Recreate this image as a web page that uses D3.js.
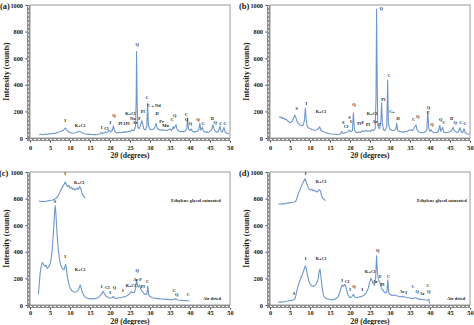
<!DOCTYPE html>
<html><head><meta charset="utf-8">
<script src="https://cdn.jsdelivr.net/npm/d3@7"></script>
<style>
body{margin:0;background:#fff}
svg{display:block}
text{font-family:"Liberation Serif","Times New Roman",serif;font-weight:bold;fill:#222}
</style>
</head><body>
<svg id="chart" width="474" height="325"></svg>
<script>
// Axis tick values
const xTicks = [0, 5, 10, 15, 20, 25, 30, 35, 40, 45, 50];
const yTicks = [0, 200, 400, 600, 800, 1000];

// XRD patterns: [2θ (degrees), intensity (counts)]
const bulkA = [[2.3,25],[2.8,28],[3.3,24],[3.8,30],[4.3,27],[4.8,33],[5.3,30],[5.8,36],[6.3,34],[6.8,42],[7.3,45],[7.8,50],[8.3,58],[8.6,66],[8.8,75],[9.0,70],[9.3,55],[9.7,44],[10.2,40],[10.7,36],[11.2,38],[11.7,42],[12.1,48],[12.4,52],[12.7,46],[13.1,38],[13.6,32],[14.1,30],[14.6,27],[15.1,28],[15.6,25],[16.1,27],[16.6,24],[17.1,28],[17.5,32],[17.8,42],[18.1,34],[18.5,38],[18.9,45],[19.3,42],[19.8,58],[20.2,46],[20.6,60],[20.85,92],[21.1,55],[21.5,42],[21.9,38],[22.3,44],[22.7,40],[23.1,46],[23.5,42],[23.9,48],[24.3,44],[24.7,52],[25.1,48],[25.5,62],[25.8,55],[26.1,60],[26.4,90],[26.55,300],[26.65,650],[26.78,280],[26.95,80],[27.3,70],[27.6,95],[27.95,130],[28.2,100],[28.5,65],[28.9,60],[29.2,90],[29.4,260],[29.6,95],[29.9,70],[30.3,62],[30.7,66],[31.1,72],[31.5,110],[31.8,75],[32.2,62],[32.6,58],[33.0,64],[33.4,56],[33.8,60],[34.2,55],[34.6,62],[35.0,68],[35.4,56],[35.8,85],[36.0,70],[36.5,100],[36.8,65],[37.2,52],[37.6,48],[38.0,50],[38.4,46],[38.8,52],[39.2,70],[39.4,150],[39.6,70],[40.0,55],[40.3,68],[40.6,50],[41.0,46],[41.4,48],[41.8,50],[42.2,60],[42.45,110],[42.7,58],[43.1,80],[43.4,50],[43.8,44],[44.2,46],[44.6,42],[45.0,50],[45.4,60],[45.7,100],[46.0,68],[46.3,50],[46.7,44],[47.1,48],[47.5,90],[47.8,50],[48.1,44],[48.5,80],[48.8,46],[49.2,36],[49.8,30]];

const bulkB = [[2.3,160],[2.6,152],[2.9,158],[3.2,145],[3.5,150],[3.8,138],[4.1,140],[4.4,128],[4.7,122],[5.0,115],[5.3,118],[5.6,128],[5.9,150],[6.2,172],[6.5,150],[6.8,120],[7.1,110],[7.4,100],[7.7,95],[8.0,92],[8.3,98],[8.6,130],[8.85,225],[9.05,140],[9.3,88],[9.7,75],[10.1,70],[10.5,64],[10.9,60],[11.3,58],[11.7,62],[12.1,70],[12.4,85],[12.7,62],[13.1,50],[13.5,45],[14.0,40],[14.5,35],[15.0,32],[15.5,30],[16.0,28],[16.5,28],[17.0,26],[17.5,30],[17.9,48],[18.2,35],[18.6,38],[19.0,42],[19.4,45],[19.8,60],[20.2,48],[20.6,55],[20.85,190],[21.1,60],[21.5,42],[21.9,40],[22.3,46],[22.7,42],[23.1,55],[23.5,48],[23.9,56],[24.3,50],[24.7,54],[25.1,50],[25.5,62],[25.9,55],[26.3,70],[26.5,300],[26.65,970],[26.8,400],[26.95,90],[27.3,70],[27.5,85],[27.7,120],[27.9,265],[28.1,110],[28.4,60],[28.8,55],[29.2,90],[29.42,435],[29.6,110],[29.9,70],[30.3,60],[30.7,55],[31.1,58],[31.5,70],[31.7,110],[31.9,60],[32.3,50],[32.8,46],[33.3,44],[33.8,48],[34.3,50],[34.8,58],[35.2,62],[35.6,55],[36.0,75],[36.5,100],[36.8,60],[37.2,45],[37.7,42],[38.2,40],[38.7,44],[39.2,60],[39.45,200],[39.7,70],[40.0,50],[40.3,62],[40.6,45],[41.1,40],[41.6,42],[42.1,48],[42.45,95],[42.7,50],[43.15,80],[43.4,46],[43.9,40],[44.4,42],[44.9,46],[45.4,55],[45.8,80],[46.1,55],[46.6,42],[47.1,45],[47.5,78],[47.8,46],[48.2,42],[48.5,70],[48.8,40],[49.3,32],[49.8,28]];

const airC = [[2.1,80],[2.3,150],[2.5,230],[2.8,290],[3.1,320],[3.4,305],[3.7,290],[4.0,300],[4.3,275],[4.6,285],[4.9,300],[5.2,330],[5.5,400],[5.8,520],[6.0,620],[6.15,700],[6.3,745],[6.45,700],[6.6,620],[6.8,520],[7.0,440],[7.3,360],[7.6,310],[7.9,285],[8.2,270],[8.5,265],[8.75,290],[8.95,305],[9.15,260],[9.4,200],[9.7,160],[10.0,130],[10.4,110],[10.8,100],[11.2,96],[11.6,100],[12.0,110],[12.3,130],[12.55,150],[12.8,125],[13.1,95],[13.5,70],[14.0,55],[14.5,50],[15.0,48],[15.5,46],[16.0,48],[16.5,50],[17.0,55],[17.4,65],[17.8,80],[18.1,95],[18.35,102],[18.6,85],[18.9,70],[19.3,62],[19.7,55],[20.1,52],[20.5,54],[20.85,65],[21.2,52],[21.6,50],[22.0,52],[22.5,55],[23.0,58],[23.5,62],[24.0,66],[24.5,75],[25.0,88],[25.35,100],[25.7,92],[26.1,95],[26.45,130],[26.65,190],[26.85,150],[27.1,135],[27.4,150],[27.7,120],[28.0,105],[28.4,90],[28.8,80],[29.2,80],[29.45,140],[29.7,75],[30.1,62],[30.6,55],[31.1,52],[31.6,50],[32.1,48],[32.6,46],[33.1,45],[33.6,44],[34.1,42],[34.6,42],[35.1,40],[35.6,40],[36.1,42],[36.5,48],[36.9,38],[37.4,36],[37.9,35],[38.4,34],[38.9,33],[39.4,32],[39.9,32]];

const glycolC = [[2.2,782],[2.7,778],[3.2,780],[3.7,776],[4.2,782],[4.7,785],[5.2,788],[5.7,790],[6.2,796],[6.6,805],[7.0,820],[7.4,845],[7.8,870],[8.2,890],[8.5,905],[8.8,925],[9.1,905],[9.4,890],[9.7,900],[10.0,880],[10.3,885],[10.6,870],[10.9,878],[11.2,865],[11.5,870],[11.8,880],[12.1,870],[12.4,890],[12.7,875],[13.0,840],[13.3,820],[13.6,812],[13.9,805]];

const airD = [[2.1,20],[2.5,22],[3.0,20],[3.5,25],[4.0,28],[4.5,30],[5.0,33],[5.5,35],[6.0,40],[6.3,50],[6.6,90],[6.9,130],[7.2,160],[7.5,185],[7.8,210],[8.1,230],[8.4,255],[8.7,285],[8.9,295],[9.1,270],[9.4,220],[9.7,180],[10.0,160],[10.4,145],[10.8,140],[11.2,145],[11.6,160],[12.0,190],[12.3,255],[12.5,270],[12.7,220],[13.0,140],[13.3,80],[13.6,60],[14.0,50],[14.5,45],[15.0,42],[15.5,40],[16.0,42],[16.5,48],[17.0,60],[17.4,90],[17.8,130],[18.1,150],[18.4,140],[18.7,155],[19.0,135],[19.3,95],[19.6,70],[20.0,55],[20.4,60],[20.85,80],[21.2,60],[21.6,55],[22.0,58],[22.5,62],[23.0,65],[23.5,75],[24.0,90],[24.5,120],[24.9,170],[25.2,200],[25.5,185],[25.8,160],[26.1,150],[26.4,200],[26.65,370],[26.85,250],[27.1,190],[27.4,175],[27.7,140],[28.0,120],[28.4,105],[28.8,90],[29.2,95],[29.45,190],[29.7,90],[30.1,78],[30.6,72],[31.1,75],[31.6,70],[32.1,66],[32.6,62],[33.1,65],[33.6,60],[34.1,56],[34.6,55],[35.1,52],[35.6,50],[36.1,52],[36.5,55],[36.9,46],[37.4,44],[37.9,42],[38.4,40],[38.9,38],[39.4,36],[39.7,45],[39.9,12]];

const glycolD = [[2.1,760],[2.6,757],[3.1,762],[3.6,760],[4.1,765],[4.6,768],[5.1,770],[5.6,772],[6.1,775],[6.4,778],[6.7,800],[7.0,830],[7.4,860],[7.8,890],[8.2,915],[8.5,935],[8.75,950],[9.0,930],[9.3,905],[9.6,880],[9.9,870],[10.2,865],[10.5,870],[10.8,858],[11.1,862],[11.4,855],[11.7,850],[12.0,855],[12.3,868],[12.6,860],[12.9,820],[13.2,800],[13.5,795],[13.9,785]];

// Mineral phase labels: [text, 2θ, counts]
const phasesA = [["I",8.75,120],["K+Cl",12.5,80],["I",17.9,65],["Cl",19.1,62],["I",20.1,105],["Q",21.0,160],["Pl",22.6,95],["I",23.6,100],["Pl",24.4,95],["K+Cl",25.1,175],["Na",25.7,135],["Ar",26.2,108],["Q",26.8,690],["F",27.4,135],["Pl",28.2,190],["C",29.3,290],["C + Nd",31.0,230],["D",31.8,172],["Pr",32.9,112],["Mn",33.9,82],["C",35.5,128],["Q",36.2,155],["C",39.1,163],["Q",39.1,128],["Q",40.1,95],["Q",42.0,128],["C",43.3,100],["D",45.6,135],["Q",46.3,105],["C",47.7,100],["C",48.8,100]];

const phasesB = [["S",6.7,213],["I",9.1,246],["K+Cl",12.7,190],["S",18.3,103],["Cl",19.0,73],["S",19.9,143],["I",20.2,113],["Q",21.0,244],["Pl",22.3,95],["F",23.2,103],["Pl",24.5,93],["K+Cl",25.5,176],["Ar",26.2,113],["Q",27.8,962],["F",27.4,88],["Pl",28.3,276],["C",29.8,460],["C+",30.5,188],["D",32.0,138],["C",35.9,128],["Q",36.9,153],["Q",39.6,221],["C",39.6,183],["Q",40.5,88],["Q",42.7,128],["C",43.5,103],["D",45.4,133],["Q",46.3,103],["C",47.7,103],["C",48.8,95]];

const phasesC = [["I",8.8,975],["K+Cl",12.3,910],["S",6.25,768],["I",8.8,350],["K+Cl",12.5,258],["I",17.9,130],["Cl",19.3,118],["I",20.0,83],["Q",21.1,118],["I",23.2,100],["K+Cl",25.2,135],["Q",26.8,245],["Ar F",26.9,180],["Pl",28.2,125],["C",29.4,163],["C",36.0,95],["Q",36.7,70],["C",39.5,70]];

const phasesD = [["I",8.9,975],["K+Cl",12.75,915],["S",6.0,78],["I",8.9,340],["K+Cl",12.75,340],["I",18.0,176],["Cl",19.25,166],["I",20.0,108],["Q",21.0,126],["I",23.1,105],["K+Cl",25.0,239],["Ar",26.3,166],["Q",26.9,402],["F",27.6,206],["Pl",28.1,146],["C",29.6,204],["Ar",33.0,90],["I",34.0,80],["C",35.8,128],["Q",36.8,88],["Ar",38.0,78],["C",39.5,133],["Q",39.7,88]];

// Treatment notes in the clay-fraction panels: [text, 2θ, counts]
const notesC = [["Ethylene glycol saturated",41.5,775],["Air dried",45.5,35]];
const notesD = [["Ethylene glycol saturated",43.0,775],["Air dried",46.5,35]];

const panels = [
  {tag:"(a)", traces:[bulkA], phases:phasesA, notes:[], box:{l:30, r:230, t:5, b:138}, tagPos:[0,9], tickGap:3.5, titleGap:20},
  {tag:"(b)", traces:[bulkB], phases:phasesB, notes:[], box:{l:270, r:470, t:5, b:138}, tagPos:[239,9], tickGap:3.5, titleGap:20},
  {tag:"(c)", traces:[airC, glycolC], phases:phasesC, notes:notesC, box:{l:30, r:230, t:172, b:305}, tagPos:[-1,176], tickGap:1.2, titleGap:18.6},
  {tag:"(d)", traces:[airD, glycolD], phases:phasesD, notes:notesD, box:{l:270, r:470, t:172, b:305}, tagPos:[239,176], tickGap:1.2, titleGap:18.6}
];

const svg = d3.select("#chart");
const lineColor = "#6e97cb";

panels.forEach(p => {
  const {l, r, t, b} = p.box;
  const x = d3.scaleLinear().domain([0, 50]).range([l, r]);
  const y = d3.scaleLinear().domain([0, 1000]).range([b, t]);
  const g = svg.append("g");

  // frame
  g.append("rect").attr("x", l).attr("y", t).attr("width", r - l).attr("height", b - t)
    .attr("fill", "none").attr("stroke", "#9a9a9a").attr("stroke-width", 1);

  // heavy axis bands with light dashes
  g.append("rect").attr("x", l - 3).attr("y", t).attr("width", 3).attr("height", b - t + 3).attr("fill", "#8e8e8e");
  g.append("rect").attr("x", l - 3).attr("y", b).attr("width", r - l + 3).attr("height", 3).attr("fill", "#8e8e8e");
  g.append("line").attr("x1", l - 1.5).attr("x2", l - 1.5).attr("y1", t + 1).attr("y2", b)
    .attr("stroke", "#d8d8d8").attr("stroke-width", 1).attr("stroke-dasharray", "2,2");
  g.append("line").attr("x1", l).attr("x2", r).attr("y1", b + 1.5).attr("y2", b + 1.5)
    .attr("stroke", "#ffffff").attr("stroke-width", 1).attr("stroke-dasharray", "2,2");

  // axes
  const xAxis = g.append("g").attr("transform", `translate(0,${b + 3})`)
    .call(d3.axisBottom(x).tickValues(xTicks).tickSize(1.5).tickPadding(p.tickGap).tickFormat(d3.format("d")));
  const yAxis = g.append("g").attr("transform", `translate(${l - 3},0)`)
    .call(d3.axisLeft(y).tickValues(yTicks).tickSize(1.5).tickPadding(2.5).tickFormat(d3.format("d")));
  [xAxis, yAxis].forEach(a => {
    a.select(".domain").remove();
    a.selectAll(".tick line").attr("stroke", "#444");
    a.selectAll(".tick text").attr("font-size", 6.3).attr("font-family", "Liberation Serif, serif")
      .attr("font-weight", "bold").attr("fill", "#222");
  });

  // diffraction traces
  const line = d3.line().x(d => x(d[0])).y(d => y(d[1]));
  p.traces.forEach(tr => {
    g.append("path").datum(tr).attr("d", line).attr("fill", "none")
      .attr("stroke", lineColor).attr("stroke-width", 1.1).attr("stroke-linejoin", "round");
  });

  // mineral phase labels
  g.selectAll(".phase").data(p.phases).enter().append("text")
    .attr("x", d => x(d[1])).attr("y", d => y(d[2]))
    .attr("text-anchor", "middle").attr("font-size", 4.4).attr("fill", "#333")
    .text(d => d[0]);

  // treatment notes
  g.selectAll(".note").data(p.notes).enter().append("text")
    .attr("x", d => x(d[1])).attr("y", d => y(d[2]))
    .attr("text-anchor", "middle").attr("font-size", 4.6).attr("fill", "#333")
    .text(d => d[0]);

  // axis titles
  const xt = g.append("text").attr("x", (l + r) / 2).attr("y", b + p.titleGap)
    .attr("text-anchor", "middle").attr("font-size", 7.6);
  xt.append("tspan").text("2");
  xt.append("tspan").attr("font-style", "italic").text("θ");
  xt.append("tspan").text(" (degrees)");

  g.append("text").attr("transform", `translate(${l - 21},${(t + b) / 2}) rotate(-90)`)
    .attr("text-anchor", "middle").attr("font-size", 7.8).text("Intensity (counts)");

  // panel tag
  g.append("text").attr("x", p.tagPos[0]).attr("y", p.tagPos[1]).attr("font-size", 8.5).text(p.tag);
});
</script>
</body></html>
